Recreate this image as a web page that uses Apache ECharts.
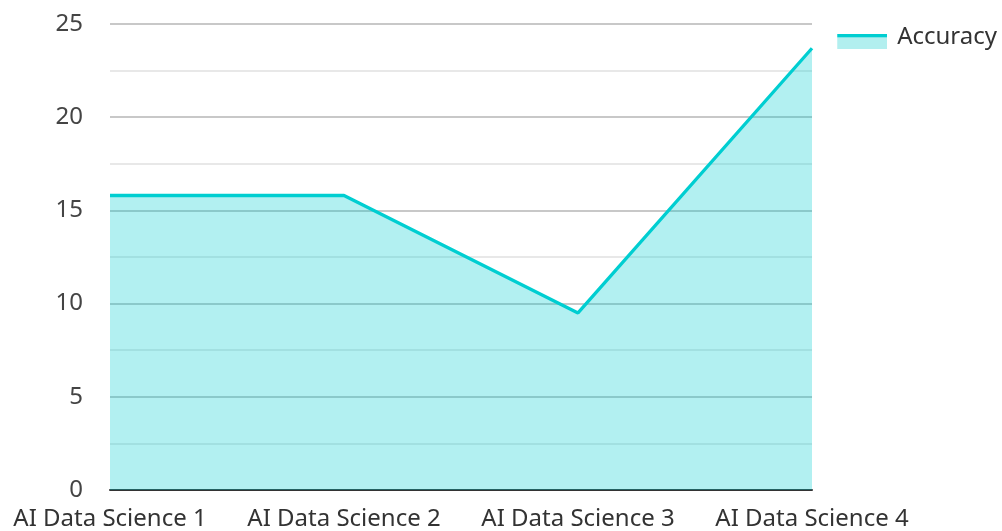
<!DOCTYPE html>
<html>
<head>
<meta charset="utf-8">
<script src="https://cdn.jsdelivr.net/npm/echarts@6/dist/echarts.min.js"></script>
<style>
  html, body { margin: 0; padding: 0; background: #fff; }
  #chart { width: 1002px; height: 531px; }
</style>
</head>
<body>
<div id="chart"></div>
<script>
const categories = ['AI Data Science 1', 'AI Data Science 2', 'AI Data Science 3', 'AI Data Science 4']
const accuracy = [15.8, 15.8, 9.5, 23.7]
const seriesName = 'Accuracy'

const lineColor = '#00CED1'
const fillColor = '#b2efef'

// legend swatch: line on top of a filled band, like the reference
const legendSvg =
  '<svg xmlns="http://www.w3.org/2000/svg" width="50" height="24" viewBox="0 0 50 24">' +
  '<rect x="0" y="12.4" width="50" height="11.6" fill="' + fillColor + '"/>' +
  '<rect x="0" y="9" width="50" height="3.4" fill="' + lineColor + '"/>' +
  '</svg>'
const legendIcon = 'image://data:image/svg+xml;charset=utf-8,' + encodeURIComponent(legendSvg)

const chart = echarts.init(document.getElementById('chart'))

chart.setOption({
  animation: false,
  textStyle: { fontFamily: 'Noto Sans' },
  legend: {
    data: [{ name: seriesName, icon: legendIcon }],
    right: 0,
    top: 20,
    itemWidth: 50,
    itemHeight: 24,
    itemGap: 10,
    textStyle: { fontSize: 24, color: '#333', fontFamily: 'Noto Sans', padding: [0, 0, 0, 5] },
  },
  grid: {
    left: 110,
    right: 190,
    top: 24,
    bottom: 41,
  },
  xAxis: {
    type: 'category',
    data: categories,
    boundaryGap: false,
    axisLine: { lineStyle: { color: '#333', width: 2 } },
    axisTick: { show: false },
    axisLabel: { fontSize: 24, color: '#333', margin: 17, interval: 0, hideOverlap: false },
  },
  yAxis: {
    type: 'value',
    min: 0,
    max: 25,
    interval: 5,
    axisLine: { show: false },
    axisTick: { show: false },
    axisLabel: { fontSize: 24, color: '#444', margin: 27 },
    splitLine: { lineStyle: { color: '#c8c8c8', width: 2 } },
    minorTick: { show: false, splitNumber: 2 },
    minorSplitLine: { show: true, lineStyle: { color: '#e8e8e8', width: 2 } },
  },
  series: [
    {
      name: seriesName,
      type: 'line',
      data: accuracy,
      symbol: 'none',
      lineStyle: { width: 3.3, color: lineColor },
      itemStyle: { color: lineColor },
      areaStyle: { color: lineColor, opacity: 0.3 },
    },
  ],
})
</script>
</body>
</html>
